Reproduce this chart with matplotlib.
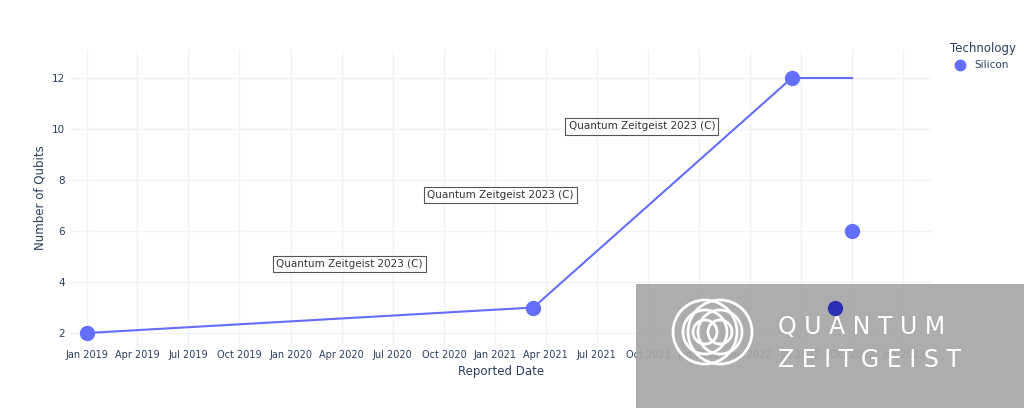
import matplotlib
matplotlib.use("Agg")
import matplotlib.pyplot as plt
from matplotlib.patches import Rectangle, Ellipse
import pandas as pd

line_dates = pd.to_datetime(["2019-01-01", "2021-03-10", "2022-06-15", "2022-10-01"])
line_qubits = [2, 3, 12, 12]
marker_dates = pd.to_datetime(["2019-01-01", "2021-03-10", "2022-06-15", "2022-10-01"])
marker_qubits = [2, 3, 12, 6]
dark_date = pd.to_datetime(["2022-09-01"])
dark_qubits = [3]
note_dates = pd.to_datetime(["2020-04-15", "2021-01-10", "2021-09-20"])
note_qubits = [4.7, 7.4, 10.1]
note_text = "Quantum Zeitgeist 2023 (C)"

blue = "#636efa"
txt = "#2a3f5f"
pos = [70 / 1024, 63 / 408, 862 / 1024, 295 / 408]
xlim = (pd.Timestamp("2018-12-02"), pd.Timestamp("2023-02-21"))
ylim = (1.53, 13.1)

fig = plt.figure(figsize=(10.24, 4.08), dpi=100)
ax = fig.add_axes(pos)

ax.plot(line_dates, line_qubits, color=blue, lw=1.5, zorder=2)
ax.scatter(marker_dates, marker_qubits, s=100, color=blue, zorder=3, label="Silicon")
for d, q in zip(note_dates, note_qubits):
    ax.text(d, q, note_text, ha="center", va="center", fontsize=7.5, color="#333333",
            bbox=dict(boxstyle="square,pad=0.3", fc="white", ec="#555555", lw=0.8), zorder=4)

ticks = pd.date_range("2019-01-01", "2023-01-01", freq="QS")
ax.set_xticks(ticks)
ax.set_xticklabels([t.strftime("%b %Y") for t in ticks], fontsize=7, color=txt)
ax.set_xlim(*xlim)
ax.set_ylim(*ylim)
ax.set_yticks([2, 4, 6, 8, 10, 12])
ax.tick_params(axis="y", labelsize=7.5, colors=txt, length=0)
ax.tick_params(axis="x", length=0)
ax.grid(True, color="#f0f3f8", lw=1)
ax.set_axisbelow(True)
for s in ax.spines.values():
    s.set_visible(False)
ax.set_xlabel("Reported Date", fontsize=8.5, color=txt)
ax.set_ylabel("Number of Qubits", fontsize=8.5, color=txt)

leg = ax.legend(title="Technology", loc="upper left", bbox_to_anchor=(1.01, 1.06),
                frameon=False, fontsize=7.5, title_fontsize=8.5, markerscale=0.75,
                handletextpad=0.3, alignment="left")
plt.setp(leg.get_title(), color=txt)
for t in leg.get_texts():
    t.set_color(txt)

# watermark overlay
fig.patches.append(Rectangle((636 / 1024, 0), 388 / 1024, 124 / 408, transform=fig.transFigure,
                             fc="#a6a6a6", alpha=0.92, ec="none", zorder=10))
for r in [12, 22, 32]:
    for cx in [705, 720]:
        fig.patches.append(Ellipse((cx / 1024, 76 / 408), 2 * r / 1024, 2 * r / 408,
                                   transform=fig.transFigure, fc="none", ec="white", lw=2, zorder=11))
fig.text(778 / 1024, 81 / 408, "Q U A N T U M", color="white", fontsize=17, va="center", zorder=12)
fig.text(778 / 1024, 48 / 408, "Z E I T G E I S T", color="white", fontsize=17, va="center", zorder=12)

top = fig.add_axes(pos, zorder=20)
top.set_xlim(*xlim)
top.set_ylim(*ylim)
top.axis("off")
top.scatter(dark_date, dark_qubits, s=100, color="#2a2fb5")

fig.savefig("out.png", dpi=100)
